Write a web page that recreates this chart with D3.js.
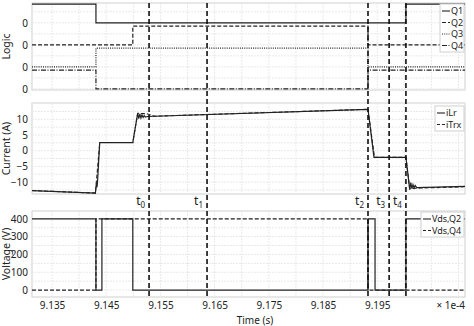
<!DOCTYPE html>
<html>
<head>
<meta charset="utf-8">
<script src="https://cdn.jsdelivr.net/npm/d3@7"></script>
<style>
  body { margin: 0; background: #fff; }
  text { font-family: "Noto Sans", sans-serif; fill: #222; }
</style>
</head>
<body>
<script>
let width = 474;
let height = 326;

// time in units of 1e-4 s
let timeDomain = [9.1313, 9.2112];
let timeTicks = [9.135, 9.145, 9.155, 9.165, 9.175, 9.185, 9.195];

// logic signals: switching instants and states (step after)
let q1T = [9.1313, 9.1431, 9.2003], q1S = [1, 0, 1];
let q2T = [9.1313, 9.1499, 9.1933], q2S = [0, 1, 0];
let q3T = [9.1313, 9.1431, 9.1933], q3S = [0, 1, 0];
let q4T = [9.1313, 9.1431, 9.1933], q4S = [1, 0, 1];

// currents (A)
let iLr = [
    [9.1313, -12.7], [9.1430, -13.5], [9.1432, -10.2], [9.1433, -11.6], [9.1434, -9.6],
    [9.1438, 2.6], [9.1499, 2.6], [9.1508, 11.9], [9.1510, 10.2], [9.1512, 11.7],
    [9.1514, 10.4], [9.1516, 11.4], [9.1518, 10.6], [9.1520, 11.2], [9.1522, 10.7],
    [9.1526, 10.9], [9.1933, 13.2], [9.1944, -2.1], [9.2003, -2.1], [9.2010, -12.4],
    [9.2012, -10.2], [9.2014, -12.1], [9.2016, -10.8], [9.2018, -11.9], [9.2020, -11.1],
    [9.2023, -11.8], [9.2112, -11.4]
];
let iTrx = [
    [9.1313, -12.7], [9.1430, -13.5], [9.1438, 2.6], [9.1499, 2.6], [9.1508, 11.9],
    [9.1524, 11.8], [9.1540, 11.0], [9.1933, 13.2], [9.1945, -2.1], [9.2003, -2.1],
    [9.2010, -12.1], [9.2030, -11.9], [9.2112, -11.5]
];

// drain-source voltages (V)
let vdsQ2 = [
    [9.1313, 400], [9.1431, 400], [9.1431, 0], [9.1442, 0], [9.1442, 400], [9.1499, 400],
    [9.1499, 0], [9.1933, 0], [9.1933, 400], [9.1946, 400], [9.1946, 0], [9.2003, 0],
    [9.2003, 400], [9.2112, 400]
];
let vdsQ4 = [
    [9.1313, 0], [9.1431, 0], [9.1431, 400], [9.1933, 400], [9.1933, 0], [9.2112, 0]
];

// interval markers
let markerNames = ["0", "1", "2", "3", "4"];
let markerTimes = [9.1529, 9.1636, 9.1933, 9.1972, 9.2003];

let margin = { left: 32, right: 9 };
let panels = [
    { label: "Logic", top: 3, bottom: 90, domain: [-0.05, 3.9], ticks: [0, 1, 2, 3], grid: [0, 0.5, 1, 1.5, 2, 2.5, 3, 3.5] },
    { label: "Current (A)", top: 103, bottom: 194, domain: [-13.8, 15.2], ticks: [-10, -5, 0, 5, 10], grid: [-12.5, -10, -7.5, -5, -2.5, 0, 2.5, 5, 7.5, 10, 12.5, 15] },
    { label: "Voltage (V)", top: 211, bottom: 297, domain: [-39, 444], ticks: [0, 100, 200, 300, 400], grid: [0, 50, 100, 150, 200, 250, 300, 350, 400] }
];

const svg = d3.select("body").append("svg")
    .attr("width", width).attr("height", height);

let x = d3.scaleLinear(timeDomain, [margin.left, width - margin.right]);
let minorX = d3.range(9.135, 9.211, 0.005);

panels.forEach(function (p) {
    p.y = d3.scaleLinear(p.domain, [p.bottom, p.top]);
    const g = svg.append("g");

    g.append("rect")
        .attr("x", x.range()[0]).attr("y", p.top)
        .attr("width", x.range()[1] - x.range()[0]).attr("height", p.bottom - p.top)
        .attr("fill", "#fff").attr("stroke", "#cfcfcf");

    g.append("g").selectAll("line").data(minorX).join("line")
        .attr("x1", d => x(d)).attr("x2", d => x(d))
        .attr("y1", p.top).attr("y2", p.bottom)
        .attr("stroke", "#e9e9e9").attr("stroke-dasharray", "2,1");

    g.append("g").selectAll("line").data(p.grid).join("line")
        .attr("x1", x.range()[0]).attr("x2", x.range()[1])
        .attr("y1", d => p.y(d)).attr("y2", d => p.y(d))
        .attr("stroke", "#e9e9e9").attr("stroke-dasharray", "2,1");

    g.append("g")
        .attr("transform", `translate(${margin.left - 3},0)`)
        .call(d3.axisLeft(p.y).tickValues(p.ticks).tickSize(0).tickPadding(1)
            .tickFormat(p.label === "Logic" ? () => "0" : d3.format("d")))
        .call(a => a.select(".domain").remove())
        .call(a => a.selectAll("text").attr("font-size", 10).attr("font-family", "Noto Sans").attr("fill", "#222"));

    svg.append("text")
        .attr("transform", `translate(10,${(p.top + p.bottom) / 2}) rotate(-90)`)
        .attr("text-anchor", "middle")
        .attr("font-size", 10.5)
        .text(p.label);
});

// x axis on the bottom panel
svg.append("g")
    .attr("transform", `translate(0,${panels[2].bottom + 2})`)
    .call(d3.axisBottom(x).tickValues(timeTicks).tickSize(0).tickFormat(d3.format(".3f")))
    .call(a => a.select(".domain").remove())
    .call(a => a.selectAll("text").attr("font-size", 10).attr("font-family", "Noto Sans").attr("fill", "#222"));

svg.append("text").attr("x", 465).attr("y", 309).attr("text-anchor", "end")
    .attr("font-size", 10).text("× 1e-4");
svg.append("text").attr("x", 255).attr("y", 323.5).attr("text-anchor", "middle")
    .attr("font-size", 10).text("Time (s)");

// logic traces
let logicSeries = [
    { name: "Q1", t: q1T, s: q1S, off: 3, dash: null },
    { name: "Q2", t: q2T, s: q2S, off: 2, dash: "4,2" },
    { name: "Q3", t: q3T, s: q3S, off: 1, dash: "1,1.2" },
    { name: "Q4", t: q4T, s: q4S, off: 0, dash: "5,1.5,1,1.5" }
];
let yL = panels[0].y;
let stepLine = d3.line().curve(d3.curveStepAfter).x(d => x(d[0])).y(d => d[1]);

logicSeries.forEach(function (q) {
    let pts = q.t.map((t, i) => [t, yL(q.off + q.s[i] * 0.85)]);
    pts.push([timeDomain[1], pts[pts.length - 1][1]]);
    svg.append("path")
        .attr("d", stepLine(pts))
        .attr("fill", "none").attr("stroke", "#222").attr("stroke-width", 1.2)
        .attr("stroke-dasharray", q.dash);
});

// current traces
let yI = panels[1].y;
let lineI = d3.line().x(d => x(d[0])).y(d => yI(d[1]));
svg.append("path").attr("d", lineI(iLr))
    .attr("fill", "none").attr("stroke", "#222").attr("stroke-width", 1.2);
svg.append("path").attr("d", lineI(iTrx))
    .attr("fill", "none").attr("stroke", "#222").attr("stroke-width", 1.1)
    .attr("stroke-dasharray", "4,2");

// voltage traces
let yV = panels[2].y;
let lineV = d3.line().x(d => x(d[0])).y(d => yV(d[1]));
svg.append("path").attr("d", lineV(vdsQ2))
    .attr("fill", "none").attr("stroke", "#222").attr("stroke-width", 1.2);
svg.append("path").attr("d", lineV(vdsQ4))
    .attr("fill", "none").attr("stroke", "#222").attr("stroke-width", 1.2)
    .attr("stroke-dasharray", "4,2");

// interval markers
svg.append("g").selectAll("line").data(markerTimes).join("line")
    .attr("x1", d => x(d)).attr("x2", d => x(d))
    .attr("y1", panels[0].top).attr("y2", panels[2].bottom)
    .attr("stroke", "#111").attr("stroke-width", 1.6)
    .attr("stroke-dasharray", "5,3");

const tl = svg.append("g").selectAll("text").data(markerTimes).join("text")
    .attr("x", d => x(d) - 4).attr("y", 205)
    .attr("text-anchor", "end")
    .attr("font-family", "Liberation Serif, serif")
    .attr("font-size", 12);
tl.append("tspan").text("t");
tl.append("tspan").attr("dy", 3).attr("font-size", 8).text((d, i) => markerNames[i]);

// legends
function legend(x0, y0, w, items) {
    const g = svg.append("g");
    let step = 11.5;
    g.append("rect").attr("x", x0).attr("y", y0).attr("width", w).attr("height", items.length * step + 2)
        .attr("fill", "#fff").attr("stroke", "#cfcfcf");
    items.forEach(function (it, i) {
        let yy = y0 + 7 + i * step;
        g.append("line").attr("x1", x0 + 2).attr("x2", x0 + 10).attr("y1", yy).attr("y2", yy)
            .attr("stroke", "#222").attr("stroke-width", 1.1).attr("stroke-dasharray", it.dash);
        g.append("text").attr("x", x0 + 11).attr("y", yy + 3.3)
            .attr("font-family", "Liberation Sans, sans-serif")
            .attr("font-size", 9).text(it.name);
    });
}
legend(440, 4, 24, logicSeries.map(q => ({ name: q.name, dash: q.dash })));
legend(435, 106, 29, [{ name: "iLr", dash: null }, { name: "iTrx", dash: "3,2" }]);
legend(421, 212, 43, [{ name: "Vds,Q2", dash: null }, { name: "Vds,Q4", dash: "3,2" }]);
</script>
</body>
</html>
